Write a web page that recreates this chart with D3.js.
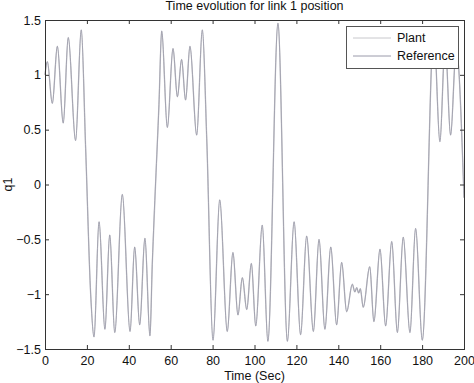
<!DOCTYPE html>
<html>
<head>
<meta charset="utf-8">
<script src="https://cdn.jsdelivr.net/npm/d3@7"></script>
<style>
  html, body { margin: 0; padding: 0; background: #fff; }
  svg { display: block; font-family: "Liberation Sans", Arial, sans-serif; }
</style>
</head>
<body>
<svg id="chart" width="474" height="383"></svg>
<script>
// ---- data ----
const timeSec = [0, 1.1, 3.5, 5.9, 8.7, 11.1, 14.6, 17.3, 19.4, 21.8, 23.4, 25.8, 28.6, 30.9, 33.3, 36.9, 40.6, 42.8, 45.2, 47.7, 50.1, 51.2, 54.4, 55.7, 58.4, 61.1, 63.2, 65.2, 67.1, 69.2, 72.4, 75.1, 77.2, 80.2, 83.4, 87.0, 89.7, 92.1, 94.2, 96.3, 98.5, 100.6, 103.7, 106.4, 111.2, 115.7, 118.9, 122.0, 124.9, 128.1, 130.8, 133.6, 136.4, 139.2, 141.6, 144.0, 146.7, 147.9, 148.8, 149.7, 150.5, 151.9, 155.0, 157.0, 159.9, 162.6, 165.5, 168.2, 171.0, 174.2, 176.9, 180.1, 185.6, 188.5, 191.0, 193.6, 196.3, 200];
const referenceQ1 = [1.00, 1.12, 0.74, 1.26, 0.56, 1.34, 0.40, 1.41, 0.33, -1.00, -1.39, -0.34, -1.32, -0.46, -1.35, -0.09, -1.34, -0.57, -1.28, -0.49, -1.38, -0.73, 0.73, 1.40, 0.52, 1.24, 0.80, 1.14, 0.77, 1.26, 0.45, 1.41, 0.42, -1.42, -0.14, -1.34, -0.62, -1.19, -0.85, -1.14, -0.72, -1.29, -0.37, -1.43, 1.47, -1.43, -0.34, -1.37, -0.47, -1.34, -0.50, -1.32, -0.57, -1.28, -0.71, -1.16, -0.91, -0.98, -0.94, -0.99, -0.95, -1.12, -0.75, -1.25, -0.59, -1.29, -0.52, -1.35, -0.48, -1.35, -0.40, -1.42, 1.40, 0.39, 1.30, 0.45, 1.25, -0.12];
const plantQ1 = [1.00, 1.12, 0.74, 1.26, 0.56, 1.34, 0.40, 1.41, 0.33, -1.00, -1.39, -0.34, -1.32, -0.46, -1.35, -0.09, -1.34, -0.57, -1.28, -0.49, -1.38, -0.73, 0.73, 1.40, 0.52, 1.24, 0.80, 1.14, 0.77, 1.26, 0.45, 1.41, 0.42, -1.42, -0.14, -1.34, -0.62, -1.19, -0.85, -1.14, -0.72, -1.29, -0.37, -1.43, 1.47, -1.43, -0.34, -1.37, -0.47, -1.34, -0.50, -1.32, -0.57, -1.28, -0.71, -1.16, -0.91, -0.98, -0.94, -0.99, -0.95, -1.12, -0.75, -1.25, -0.59, -1.29, -0.52, -1.35, -0.48, -1.35, -0.40, -1.42, 1.40, 0.39, 1.30, 0.45, 1.25, -0.12];
const xTicks = [0, 20, 40, 60, 80, 100, 120, 140, 160, 180, 200];
const yTicks = [-1.5, -1, -0.5, 0, 0.5, 1, 1.5];
const seriesNames = ["Plant", "Reference"];
const titleText = "Time evolution for link 1 position";
const xLabelText = "Time (Sec)";
const yLabelText = "q1";

// ---- layout ----
const L = 45, R = 464, T = 20, B = 349;
const svg = d3.select("#chart");
const x = d3.scaleLinear().domain([0, 200]).range([L, R]);
const y = d3.scaleLinear().domain([-1.5, 1.5]).range([B, T]);
const axisColor = "#333";
const fontSize = 12.5;

// lines
const lineGen = vals => d3.line()
  .x((d, i) => x(timeSec[i]))
  .y(d => y(d))
  .curve(d3.curveMonotoneX)(vals);

const seriesColors = ["#c8c8cc", "#9a9aaa"];
[plantQ1, referenceQ1].forEach((vals, k) => {
  svg.append("path")
    .attr("d", lineGen(vals))
    .attr("fill", "none")
    .attr("stroke", seriesColors[k])
    .attr("stroke-width", k === 0 ? 1.4 : 0.8);
});

// axes (inward ticks)
function styleAxis(g, showText) {
  g.select(".domain").remove();
  g.selectAll(".tick line").attr("stroke", axisColor);
  g.selectAll("text")
    .attr("fill", "#111")
    .style("font-size", fontSize + "px")
    .style("font-family", "'Liberation Sans', Arial, sans-serif");
  if (!showText) g.selectAll("text").remove();
}
svg.append("g").attr("transform", `translate(0,${B})`)
  .call(d3.axisBottom(x).tickValues(xTicks).tickFormat(d3.format("d")).tickSize(-4).tickPadding(7))
  .call(g => styleAxis(g, true));
svg.append("g").attr("transform", `translate(0,${T})`)
  .call(d3.axisTop(x).tickValues(xTicks).tickSize(-4))
  .call(g => styleAxis(g, false));
svg.append("g").attr("transform", `translate(${L},0)`)
  .call(d3.axisLeft(y).tickValues(yTicks).tickFormat(d => d3.format("")(d)).tickSize(-4).tickPadding(4))
  .call(g => styleAxis(g, true));
svg.append("g").attr("transform", `translate(${R},0)`)
  .call(d3.axisRight(y).tickValues(yTicks).tickSize(-4))
  .call(g => styleAxis(g, false));

// frame
svg.append("rect")
  .attr("x", L + 0.5).attr("y", T + 0.5)
  .attr("width", R - L).attr("height", B - T)
  .attr("fill", "none").attr("stroke", axisColor).attr("stroke-width", 1);

// title and labels
svg.append("text").attr("x", (L + R) / 2).attr("y", 10)
  .attr("text-anchor", "middle").style("font-size", fontSize + "px").attr("fill", "#111")
  .text(titleText);
svg.append("text").attr("x", (L + R) / 2).attr("y", 380)
  .attr("text-anchor", "middle").style("font-size", fontSize + "px").attr("fill", "#111")
  .text(xLabelText);
svg.append("text")
  .attr("transform", `translate(12,${(T + B) / 2}) rotate(-90)`)
  .attr("text-anchor", "middle").style("font-size", fontSize + "px").attr("fill", "#111")
  .text(yLabelText);

// legend
const lg = svg.append("g");
lg.append("rect").attr("x", 346.5).attr("y", 26.5).attr("width", 112).attr("height", 42)
  .attr("fill", "#fff").attr("stroke", "#555").attr("stroke-width", 1);
seriesNames.forEach((name, i) => {
  const yy = 38 + i * 18;
  lg.append("line").attr("x1", 353).attr("x2", 391).attr("y1", yy).attr("y2", yy)
    .attr("stroke", seriesColors[i]).attr("stroke-width", 1);
  lg.append("text").attr("x", 397).attr("y", yy + 4)
    .style("font-size", fontSize + "px").attr("fill", "#111").text(name);
});
</script>
</body>
</html>
